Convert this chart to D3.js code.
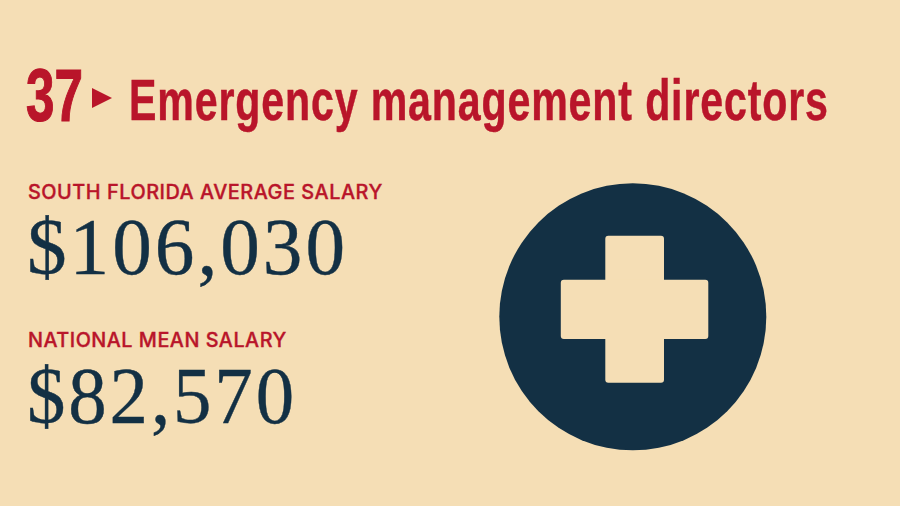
<!DOCTYPE html>
<html>
<head>
<meta charset="utf-8">
<script src="https://cdn.jsdelivr.net/npm/d3@7"></script>
<style>
  html, body { margin: 0; padding: 0; background: #f5deb5; }
  svg { display: block; }
</style>
</head>
<body>
<div id="chart"></div>
<script>
const rank = "37";
const jobTitle = "Emergency management directors";
const salaryLabels = ["SOUTH FLORIDA AVERAGE SALARY", "NATIONAL MEAN SALARY"];
const salaryValues = [106030, 82570];

const bg = "#f5deb5";
const red = "#b9152a";
const navy = "#133044";

const svg = d3.select("#chart").append("svg")
    .attr("width", 900)
    .attr("height", 506);

svg.append("rect").attr("width", 900).attr("height", 506).attr("fill", bg);

// squeeze or stretch a text to the width it has in the picture
function fitText(sel, x, y, w) {
    const natural = sel.node().getComputedTextLength();
    sel.attr("transform", `translate(${x},${y}) scale(${w / natural},1)`);
    return sel;
}

const narrow = "'Liberation Sans Narrow', 'Liberation Sans'";

// header
fitText(svg.append("text")
    .attr("font-family", narrow)
    .attr("font-weight", 700).attr("font-size", 75)
    .attr("fill", red).attr("stroke", red).attr("stroke-width", 1.2)
    .text(rank), 26, 121, 57);

svg.append("path")
    .attr("d", d3.line()([[92, 88], [112, 98], [92, 108]]) + "Z")
    .attr("fill", red);

fitText(svg.append("text")
    .attr("font-family", narrow)
    .attr("font-weight", 700).attr("font-size", 58)
    .attr("letter-spacing", 1.2)
    .attr("fill", red).attr("stroke", red).attr("stroke-width", 0.5)
    .text(jobTitle), 129, 120, 700);

// salaries
const fmt = d3.format("$,");
const labelY = d3.scaleOrdinal().domain(salaryLabels).range([198.5, 347]);
const valueY = d3.scaleOrdinal().domain(salaryLabels).range([274, 423]);
const labelW = [355, 259];
const valueW = [321, 270];

salaryLabels.forEach((lab, i) => {
    fitText(svg.append("text")
        .attr("font-family", "Inter, Roboto, sans-serif")
        .attr("font-weight", 500).attr("font-size", 19.5)
        .attr("letter-spacing", 0.5)
        .attr("fill", red).attr("stroke", red).attr("stroke-width", 0.35)
        .text(lab), 28, labelY(lab), labelW[i]);
    fitText(svg.append("text")
        .attr("font-family", "'Liberation Serif', serif")
        .attr("font-size", 80)
        .attr("letter-spacing", 3)
        .attr("fill", navy).attr("stroke", navy).attr("stroke-width", 0.4)
        .text(fmt(salaryValues[i])), 27, valueY(lab), valueW[i]);
});

// icon
const icon = svg.append("g").attr("transform", "translate(632.8,316.8)");
icon.append("circle").attr("r", 133.5).attr("fill", navy);
icon.append("rect").attr("x", -27.5).attr("y", -81).attr("width", 58.7).attr("height", 147).attr("rx", 3).attr("fill", bg);
icon.append("rect").attr("x", -72).attr("y", -37).attr("width", 147.5).attr("height", 59.3).attr("rx", 3).attr("fill", bg);
</script>
</body>
</html>
